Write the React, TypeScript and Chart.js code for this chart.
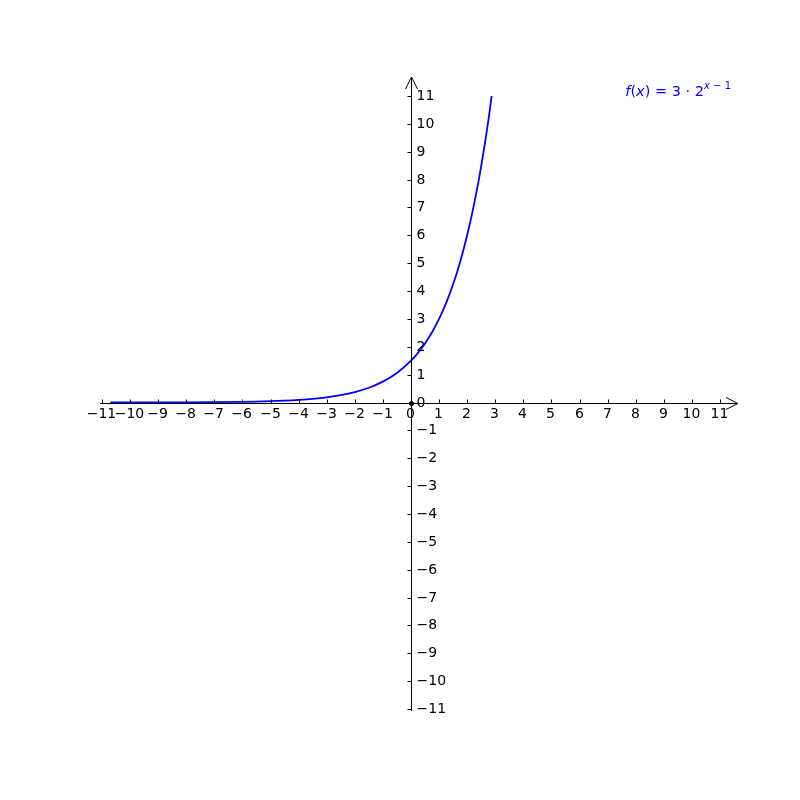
import React, { useEffect, useRef } from "react";
import { Chart, registerables } from "chart.js";

Chart.register(...registerables);

// Curve samples: f(x) = 3·2^(x−1)
const xValues = [-10.7, -10, -9, -8, -7, -6, -5.5, -5, -4.5, -4, -3.5, -3, -2.5, -2, -1.5, -1, -0.5, 0, 0.25, 0.5, 0.75, 1, 1.25, 1.5, 1.75, 2, 2.25, 2.5, 2.75, 3];
const yValues = [0.0009, 0.0015, 0.0029, 0.0059, 0.0117, 0.0234, 0.0331, 0.0469, 0.0663, 0.0938, 0.1326, 0.1875, 0.2652, 0.375, 0.5303, 0.75, 1.0607, 1.5, 1.7838, 2.1213, 2.5227, 3, 3.5676, 4.2426, 5.0454, 6, 7.1352, 8.4853, 10.0907, 12];

const xTicks = [-11, -10, -9, -8, -7, -6, -5, -4, -3, -2, -1, 0, 1, 2, 3, 4, 5, 6, 7, 8, 9, 10, 11];
const yTicks = [-11, -10, -9, -8, -7, -6, -5, -4, -3, -2, -1, 0, 1, 2, 3, 4, 5, 6, 7, 8, 9, 10, 11];

const fmt = (v: number) => (v < 0 ? "\u2212" + Math.abs(v) : String(v));

const FONT = "'DejaVu Sans', sans-serif";

const axesPlugin = {
  id: "centerAxes",
  afterDatasetsDraw(chart: any) {
    const ctx = chart.ctx as CanvasRenderingContext2D;
    const xs = chart.scales.x;
    const ys = chart.scales.y;
    const ca = chart.chartArea;
    const x0 = Math.round(xs.getPixelForValue(0)) + 0.5;
    const y0 = Math.round(ys.getPixelForValue(0)) + 0.5;
    ctx.save();
    ctx.strokeStyle = "#000";
    ctx.fillStyle = "#000";
    ctx.lineWidth = 1;
    // x axis
    const xEnd = ca.right + 18;
    ctx.beginPath();
    ctx.moveTo(ca.left, y0);
    ctx.lineTo(xEnd, y0);
    ctx.stroke();
    ctx.beginPath();
    ctx.moveTo(xEnd - 12, y0 - 6);
    ctx.lineTo(xEnd, y0);
    ctx.lineTo(xEnd - 12, y0 + 6);
    ctx.stroke();
    // y axis
    const yEnd = ca.top - 19;
    ctx.beginPath();
    ctx.moveTo(x0, ca.bottom);
    ctx.lineTo(x0, yEnd);
    ctx.stroke();
    ctx.beginPath();
    ctx.moveTo(x0 - 6, yEnd + 12);
    ctx.lineTo(x0, yEnd);
    ctx.lineTo(x0 + 6, yEnd + 12);
    ctx.stroke();
    // ticks & labels
    ctx.font = "14px " + FONT;
    ctx.textAlign = "center";
    ctx.textBaseline = "alphabetic";
    for (const t of xTicks) {
      const px = Math.round(xs.getPixelForValue(t)) + 0.5;
      ctx.beginPath();
      ctx.moveTo(px, y0);
      ctx.lineTo(px, y0 - 4);
      ctx.stroke();
      ctx.fillText(fmt(t), px - 1, y0 + 14);
    }
    ctx.textAlign = "left";
    for (const t of yTicks) {
      const py = Math.round(ys.getPixelForValue(t)) + 0.5;
      ctx.beginPath();
      ctx.moveTo(x0, py);
      ctx.lineTo(x0 - 4, py);
      ctx.stroke();
      ctx.fillText(fmt(t), x0 + 5, py + 3);
    }
    // origin dot
    ctx.beginPath();
    ctx.arc(x0, y0, 2.5, 0, Math.PI * 2);
    ctx.fill();

    // formula label
    ctx.fillStyle = "#0000ff";
    const big = 14.5;
    const small = 10;
    const parts: { t: string; italic: boolean; sup: boolean }[] = [
      { t: "f", italic: true, sup: false },
      { t: "(", italic: false, sup: false },
      { t: "x", italic: true, sup: false },
      { t: ")", italic: false, sup: false },
      { t: " = 3 \u00b7 2", italic: false, sup: false },
      { t: "x", italic: true, sup: true },
      { t: " \u2212 1", italic: false, sup: true },
    ];
    const setFont = (p: { italic: boolean; sup: boolean }) => {
      ctx.font = (p.italic ? "italic " : "") + (p.sup ? small : big) + "px " + FONT;
    };
    let total = 0;
    for (const p of parts) {
      setFont(p);
      total += ctx.measureText(p.t).width;
    }
    let cx = 731 - total;
    const base = 96;
    for (const p of parts) {
      setFont(p);
      ctx.fillText(p.t, cx, p.sup ? base - 7 : base);
      cx += ctx.measureText(p.t).width;
    }
    ctx.restore();
  },
};

export default function App() {
  const ref = useRef<HTMLCanvasElement | null>(null);
  useEffect(() => {
    if (!ref.current) return;
    const data = xValues.map((x, i) => ({ x, y: yValues[i] }));
    const chart = new Chart(ref.current, {
      type: "scatter",
      data: {
        datasets: [
          {
            data,
            showLine: true,
            borderColor: "#0000ff",
            backgroundColor: "#0000ff",
            borderWidth: 1.8,
            pointRadius: 0,
            cubicInterpolationMode: "monotone",
          } as any,
        ],
      },
      options: {
        responsive: false,
        animation: false,
        devicePixelRatio: 1,
        layout: { padding: { left: 100, right: 80, top: 96, bottom: 89 } },
        plugins: { legend: { display: false }, tooltip: { enabled: false } },
        scales: {
          x: { type: "linear", min: -11.07, max: 11, display: false },
          y: { type: "linear", min: -11.07, max: 11, display: false },
        },
      },
      plugins: [axesPlugin],
    });
    return () => chart.destroy();
  }, []);
  return (
    <div style={{ position: "fixed", left: 0, top: 0, width: 800, height: 800, background: "#fff" }}>
      <canvas ref={ref} width={800} height={800} style={{ width: 800, height: 800 }} />
    </div>
  );
}
